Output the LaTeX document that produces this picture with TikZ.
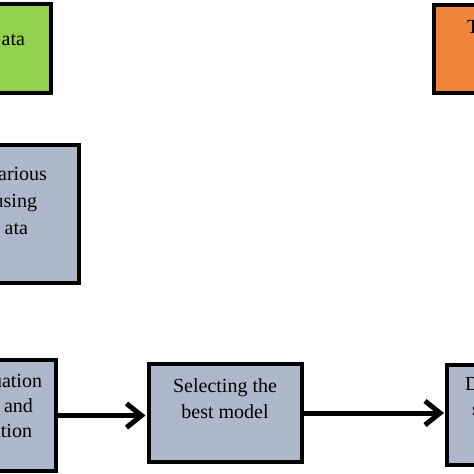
\documentclass[tikz,border=0pt]{standalone}
\usepackage{fontspec}
\setmainfont{Liberation Serif}
\usetikzlibrary{arrows.meta, positioning}
\definecolor{leafgreen}{HTML}{92D050}
\definecolor{testorange}{HTML}{F0843A}
\definecolor{slategrey}{HTML}{ADB9CA}

\begin{document}
\begin{tikzpicture}[x=1pt, y=-1pt,
        box/.style={rectangle, draw, line width=4pt, outer sep=0pt, inner sep=0pt},
        frag/.style={inner sep=0pt, outer sep=0pt, font=\fontsize{20}{26.5}\selectfont},
        arr/.style={-{Straight Barb[length=15pt, width=24pt]}, line width=5pt, shorten >=3pt}
        ]
        \useasboundingbox (0,0) rectangle (474,474);
        \clip (0,0) rectangle (474,474);
        % boxes (the picture is cropped, so most of them run off the edge)
        \node[box, fill=leafgreen, anchor=north east, minimum width=160pt, minimum height=88.7pt] (traindata) at (50.5,4.3) {};
        \node[box, fill=testorange, anchor=north west, minimum width=160pt, minimum height=88pt] (testdata) at (433.5,5) {};
        \node[box, fill=slategrey, anchor=north east, minimum width=200pt, minimum height=138pt] (trainmodels) at (79,144.5) {};
        \node[box, fill=slategrey, anchor=north east, minimum width=200pt, minimum height=111pt] (evalbox) at (55.5,360) {};
        \node[box, fill=slategrey, anchor=north west, minimum width=153.5pt, minimum height=98pt] (selbox) at (148.5,364) {};
        \node[box, fill=slategrey, anchor=north west, minimum width=160pt, minimum height=100.5pt] (deploybox) at (447,364.5) {};
        % texts
        \node[frag, anchor=base east] (trainlabel) at (25,45) {ata};
        \node[frag, anchor=base west] (testlabel) at (467,33) {T};
        \foreach \txt/\xe/\yb [count=\i] in {arious/47/180, using/37/207, ata/28/234}
            \node[frag, anchor=base east] (tmline\i) at (\xe,\yb) {\txt};
        \foreach \txt/\xe/\yb [count=\i] in {uation/42/387, s and/33/412, ation/32/437}
            \node[frag, anchor=base east] (evline\i) at (\xe,\yb) {\txt};
        \node[frag, align=center, anchor=north] (seltext) at (225,378.3) {Selecting the\\best model};
        \node[frag, anchor=base west] (depline1) at (465,390) {D};
        \node[frag, anchor=base west] (depline2) at (472,415) {s};
        % arrows
        \draw[arr] (evalbox.east) -- (evalbox.east -| selbox.west);
        \draw[arr] (selbox.east) -- (selbox.east -| deploybox.west);
    \end{tikzpicture}
\end{document}
